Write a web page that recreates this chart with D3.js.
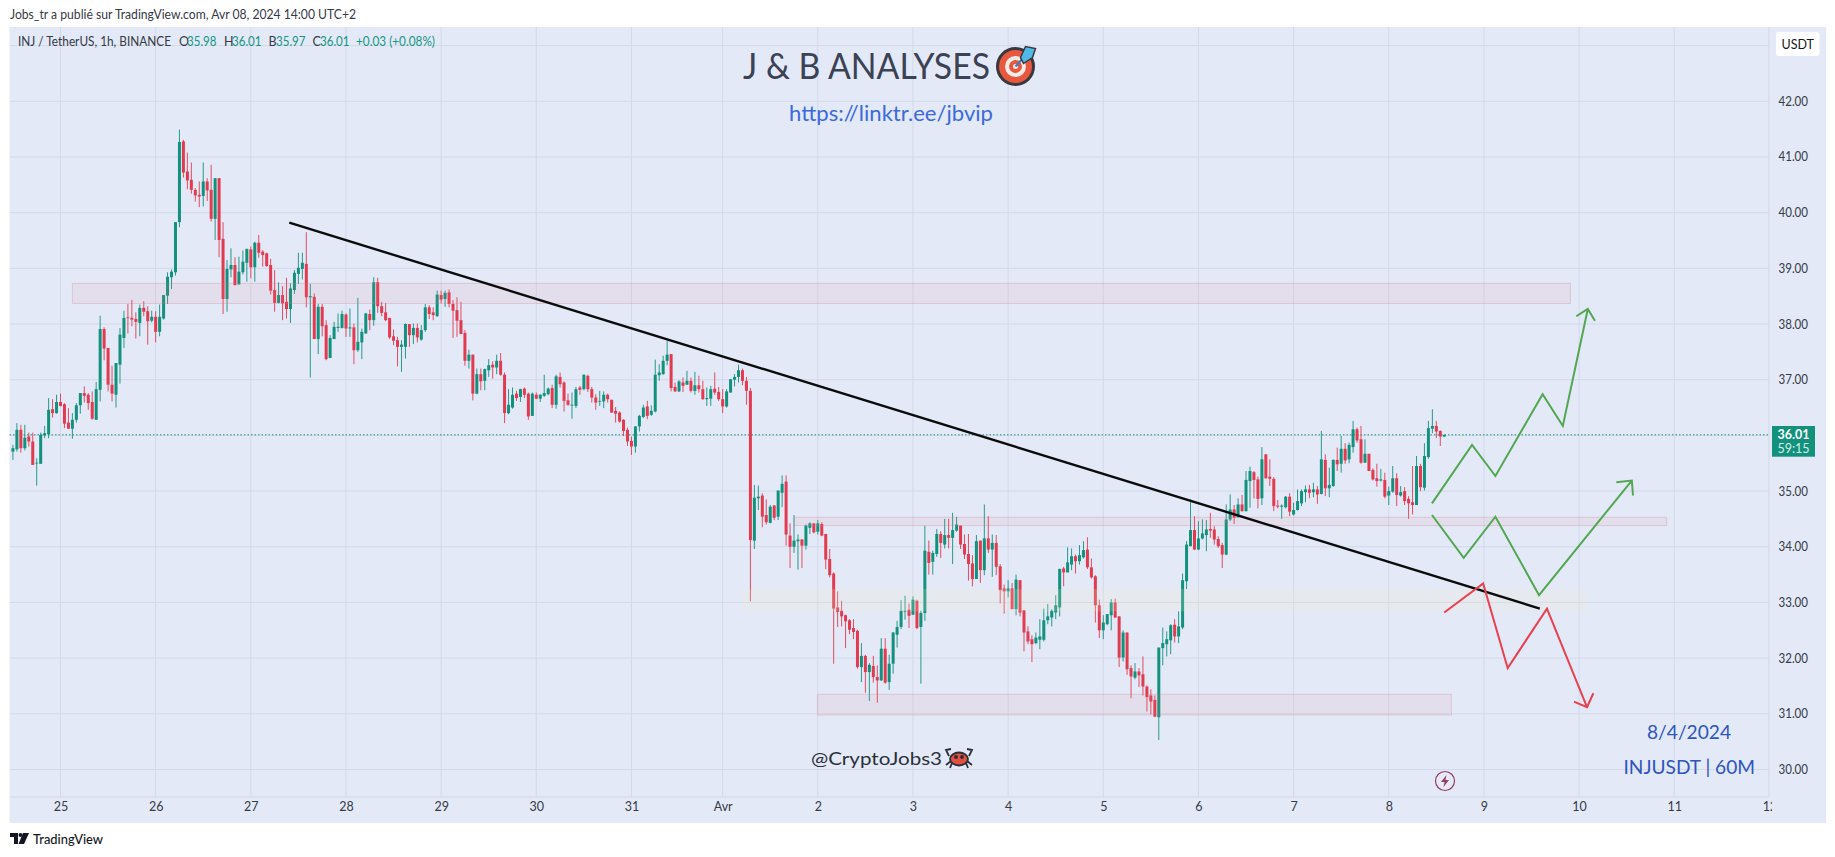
<!DOCTYPE html>
<html>
<head>
<meta charset="utf-8">
<title>INJUSDT 60M</title>
<style>
  html, body { margin: 0; padding: 0; background: #fff; overflow: hidden; }
  svg { display: block; }
  text { font-family: Lato, "Open Sans", sans-serif; }
</style>
<script src="https://d3js.org/d3.v7.min.js"></script>
</head>
<body>
<svg width="1835" height="857"></svg>
<script>

// hourly candles, first one is 12 bars before the "25" tick
var firstBar = -12;

var opens = [
35.71,35.75,36.10,35.77,35.98,35.89,35.50,35.49,36.00,36.02,
36.47,36.40,36.60,36.56,36.23,36.12,36.28,36.54,36.76,36.73,
36.60,36.28,36.82,37.91,37.57,36.91,36.73,37.27,37.75,38.12,
38.11,38.09,38.02,38.29,38.23,38.06,38.13,37.86,38.10,38.51,
38.84,38.93,39.83,41.28,40.74,40.59,40.41,40.32,40.30,40.56,
40.41,39.89,40.62,39.53,38.45,38.98,39.06,38.71,38.93,39.10,
39.34,39.02,39.46,39.30,39.27,39.06,38.61,38.38,38.52,38.40,
38.27,38.61,38.90,38.99,39.08,38.48,38.49,37.73,38.31,37.98,
37.39,37.73,37.93,37.93,38.17,37.92,37.94,37.53,37.67,37.83,
38.18,38.07,38.75,38.32,38.21,38.11,37.78,37.71,37.59,37.59,
38.00,37.80,37.93,37.72,37.89,38.30,38.21,38.14,38.52,38.45,
38.57,38.36,38.25,38.07,37.84,37.34,37.45,36.75,37.10,36.98,
37.17,37.27,37.22,37.34,37.09,36.40,36.50,36.75,36.69,36.84,
36.75,36.35,36.73,36.66,36.71,36.74,36.85,36.55,37.05,36.95,
36.63,36.54,36.53,36.86,36.83,37.07,36.83,36.68,36.61,36.61,
36.73,36.64,36.44,36.41,36.28,36.10,35.90,35.80,36.16,36.33,
36.52,36.37,36.43,37.08,37.10,37.34,37.46,36.87,36.79,36.95,
36.91,36.98,36.80,36.90,36.83,36.65,36.66,36.84,36.78,36.65,
36.52,36.77,37.00,37.05,37.17,36.98,36.80,34.11,34.87,34.92,
34.57,34.43,34.74,34.54,34.97,35.17,34.20,34.00,34.10,34.13,
34.02,34.34,34.42,34.27,34.41,34.23,33.78,33.52,32.91,32.85,
32.77,32.68,32.54,32.49,31.84,32.04,31.75,31.86,31.66,31.60,
32.17,31.57,31.90,32.42,32.56,32.84,32.87,32.78,33.03,32.56,
32.81,33.91,33.73,33.87,34.23,34.04,34.21,34.16,34.29,34.38,
34.05,33.87,33.70,33.42,34.11,33.58,34.15,33.95,34.07,33.65,
33.25,33.20,33.25,32.88,33.40,32.86,32.48,32.34,32.27,32.33,
32.33,32.68,32.73,32.82,32.91,33.61,33.54,33.68,33.83,33.74,
33.81,33.95,33.63,33.47,32.95,32.50,32.61,32.77,33.00,32.75,
32.01,32.46,31.82,31.65,31.76,31.71,31.49,31.33,31.25,30.94,
32.18,32.25,32.32,32.60,32.39,32.55,33.38,34.01,34.30,33.95,
34.15,34.21,34.32,34.31,34.14,34.03,33.86,34.49,34.67,34.53,
34.76,34.64,35.18,35.34,35.21,34.87,35.66,35.26,35.22,34.74,
34.72,34.71,34.90,34.58,34.66,34.78,34.98,35.03,34.98,35.03,
34.95,35.56,35.05,35.09,35.56,35.49,35.76,35.57,35.79,36.11,
35.93,35.51,35.67,35.38,35.23,35.19,35.20,34.92,34.99,35.23,
34.92,35.00,34.86,34.80,34.75,35.45,35.06,35.61,36.12,36.17,36.08,35.98];

var highs = [
35.83,36.22,36.19,36.19,36.05,36.05,35.59,36.05,36.17,36.67,
36.65,36.73,36.75,36.58,36.49,36.40,36.58,36.76,36.88,36.76,
36.79,36.96,38.15,37.94,37.57,37.25,37.30,37.93,38.24,38.36,
38.43,38.21,38.35,38.41,38.32,38.24,38.23,38.35,38.52,38.93,
38.98,39.83,41.49,41.31,41.08,40.90,40.44,40.56,40.90,40.62,
40.86,40.62,40.62,39.83,39.15,39.36,39.20,39.21,39.32,39.35,
39.39,39.48,39.60,39.33,39.28,39.17,38.97,38.75,38.68,38.83,
38.73,38.97,39.28,39.28,39.65,38.72,38.55,38.36,38.36,38.07,
37.80,38.04,38.19,38.24,38.19,38.28,38.01,38.47,37.92,38.20,
38.26,38.84,38.83,38.40,38.38,38.11,37.90,37.77,37.71,38.01,
38.00,38.01,38.01,37.98,38.36,38.34,38.30,38.60,38.60,38.60,
38.62,38.43,38.48,38.40,37.89,37.54,37.45,37.20,37.20,37.20,
37.37,37.33,37.45,37.48,37.13,36.83,36.86,36.80,36.84,36.86,
36.77,36.77,36.77,36.74,37.09,36.86,36.91,37.09,37.13,36.97,
36.75,36.77,36.87,36.89,37.09,37.09,36.87,36.74,36.80,36.79,
36.75,36.64,36.51,36.43,36.29,36.14,35.98,36.17,36.37,36.55,
36.62,36.54,37.36,37.28,37.43,37.70,37.46,36.95,36.99,37.04,
37.16,37.04,37.14,37.07,36.98,36.86,36.89,37.13,36.87,36.83,
36.83,37.01,37.10,37.27,37.20,37.05,36.85,35.11,35.10,34.96,
34.85,34.75,34.75,35.01,35.28,35.28,34.42,34.57,34.22,34.14,
34.40,34.44,34.42,34.48,34.44,34.23,33.96,33.54,33.20,33.03,
32.78,32.70,32.70,32.51,32.27,32.06,31.91,32.04,31.87,32.36,
32.36,32.06,32.47,32.67,33.04,33.12,32.98,33.11,33.05,32.85,
34.38,34.11,33.93,34.32,34.28,34.50,34.50,34.61,34.54,34.38,
34.22,34.23,33.85,34.21,34.11,34.76,34.55,34.22,34.21,33.69,
33.32,33.40,33.35,33.50,33.40,32.86,32.57,32.41,32.46,32.70,
32.89,32.97,32.88,33.13,33.61,33.64,33.99,33.97,33.86,34.03,
34.10,34.17,33.79,33.49,33.05,32.77,32.79,33.06,33.07,32.75,
32.50,32.46,31.87,31.91,31.82,32.03,31.51,31.44,31.33,32.19,
32.55,32.48,32.61,32.70,32.84,33.52,34.10,34.85,34.55,34.46,
34.49,34.48,34.61,34.37,34.19,34.07,34.76,34.94,34.75,34.87,
34.93,35.36,35.44,35.36,35.26,35.79,35.66,35.57,35.25,34.84,
34.76,34.91,34.96,34.79,35.03,35.03,35.10,35.11,35.15,35.09,
36.08,35.66,35.42,35.57,35.78,35.99,35.86,35.87,36.26,36.14,
36.17,35.93,35.67,35.41,35.49,35.40,35.33,35.08,35.45,35.32,
35.09,35.07,34.91,35.45,35.63,35.49,35.86,36.26,36.47,36.26,36.09,36.01];

var lows = [
35.56,35.71,35.69,35.73,35.80,35.47,35.10,35.49,35.95,35.95,
36.32,36.39,36.52,36.13,36.12,35.94,36.23,36.39,36.59,36.46,
36.28,36.28,36.61,37.35,36.79,36.61,36.50,36.93,37.57,37.83,
37.96,37.74,37.78,38.14,37.63,38.03,37.67,37.78,38.08,38.36,
38.63,38.87,39.74,40.63,40.42,40.34,40.20,40.10,40.11,40.21,
39.84,39.51,39.20,38.18,38.22,38.84,38.69,38.71,38.89,38.76,
38.82,38.76,39.19,39.03,39.03,38.53,38.22,38.37,38.07,38.10,
38.02,38.54,38.72,38.80,38.30,37.04,37.73,37.46,37.78,37.35,
37.39,37.73,37.86,37.92,37.77,37.77,37.28,37.50,37.37,37.83,
37.89,37.97,38.20,38.14,38.05,37.73,37.62,37.24,37.14,37.38,
37.59,37.64,37.67,37.70,37.86,38.09,38.07,38.13,38.37,38.31,
38.30,37.75,37.77,37.82,37.25,37.20,36.63,36.74,36.81,36.81,
37.05,37.02,37.10,37.07,36.22,36.38,36.48,36.62,36.60,36.67,
36.28,36.35,36.65,36.60,36.69,36.72,36.49,36.48,36.86,36.43,
36.53,36.30,36.49,36.73,36.81,36.78,36.59,36.46,36.53,36.49,
36.59,36.41,36.23,36.23,35.99,35.81,35.65,35.69,36.07,36.31,
36.29,36.35,36.41,36.98,37.09,37.26,36.79,36.78,36.78,36.78,
36.91,36.77,36.73,36.77,36.64,36.53,36.53,36.73,36.62,36.40,
36.50,36.77,36.88,36.95,36.90,36.55,33.02,33.96,34.66,34.35,
34.40,34.42,34.48,34.48,34.71,34.02,33.62,33.89,33.59,33.62,
33.95,34.23,34.24,34.22,34.19,33.60,33.45,31.90,32.56,32.57,
32.18,32.43,32.34,31.81,31.57,31.38,31.23,31.56,31.20,31.59,
31.54,31.43,31.72,32.19,32.52,32.69,32.54,32.78,32.52,31.54,
32.67,33.50,33.50,33.82,33.80,33.97,33.97,33.69,34.27,33.96,
33.78,33.39,33.29,33.42,33.35,33.49,33.89,33.46,33.49,32.98,
32.80,33.09,32.88,32.77,32.75,32.12,32.25,31.93,32.25,32.16,
32.30,32.61,32.57,32.70,32.75,33.29,33.54,33.58,33.52,33.68,
33.79,33.60,33.43,32.64,32.36,32.34,32.59,32.50,32.72,31.84,
31.94,31.70,31.28,31.62,31.48,31.33,31.04,30.99,30.94,30.53,
31.87,32.03,32.07,32.28,32.27,32.52,33.24,34.01,33.94,33.94,
34.13,33.92,34.16,34.04,33.98,33.62,33.85,34.46,34.41,34.52,
34.63,34.63,34.70,34.87,34.69,34.75,35.22,35.09,34.64,34.69,
34.50,34.69,34.55,34.56,34.65,34.73,34.80,34.87,34.89,34.77,
34.94,34.91,34.89,35.08,35.36,35.33,35.49,35.50,35.69,35.87,
35.49,35.51,35.36,35.19,35.08,35.17,34.87,34.75,34.97,34.73,
34.90,34.75,34.50,34.58,34.75,35.00,35.01,35.58,36.04,35.95,35.81,35.97];

var closes = [
35.77,36.10,35.77,35.96,35.89,35.47,35.51,36.01,36.04,36.46,
36.40,36.60,36.53,36.21,36.12,36.28,36.54,36.76,36.71,36.58,
36.30,36.83,37.91,37.56,36.91,36.75,37.30,37.81,38.11,38.11,
38.08,38.04,38.29,38.22,38.05,38.13,37.86,38.13,38.52,38.85,
38.94,39.83,41.27,40.72,40.58,40.41,40.31,40.29,40.56,40.40,
39.89,40.62,39.51,38.45,38.99,39.06,38.70,38.94,39.12,39.35,
39.02,39.46,39.28,39.24,39.04,38.60,38.38,38.52,38.37,38.27,
38.64,38.92,39.01,39.10,38.48,38.50,37.73,38.31,37.96,37.37,
37.75,37.95,37.95,38.18,37.92,37.94,37.53,37.68,37.86,38.19,
38.07,38.75,38.32,38.20,38.07,37.76,37.70,37.59,37.63,38.00,
37.80,37.93,37.76,37.89,38.30,38.18,38.16,38.53,38.44,38.56,
38.36,38.24,38.06,37.82,37.34,37.45,36.75,37.10,36.97,37.19,
37.26,37.22,37.34,37.09,36.40,36.55,36.73,36.67,36.83,36.73,
36.34,36.75,36.66,36.73,36.76,36.84,36.55,37.06,36.92,36.62,
36.55,36.55,36.83,36.82,37.09,36.83,36.68,36.59,36.62,36.73,
36.65,36.41,36.39,36.25,36.08,35.89,35.80,36.16,36.35,36.50,
36.35,36.44,37.09,37.13,37.34,37.45,36.85,36.79,36.97,36.89,
36.98,36.80,36.90,36.83,36.65,36.67,36.83,36.77,36.65,36.52,
36.79,37.01,37.05,37.17,36.98,36.80,34.12,34.88,34.90,34.54,
34.44,34.72,34.52,35.01,35.13,34.22,34.00,34.11,34.13,34.02,
34.38,34.42,34.26,34.42,34.20,33.77,33.49,32.89,32.83,32.75,
32.66,32.51,32.47,31.84,32.04,31.75,31.88,31.66,31.60,32.17,
31.56,31.90,32.46,32.56,32.85,32.85,32.76,33.05,32.54,32.81,
33.93,33.71,33.89,34.23,34.07,34.21,34.16,34.30,34.40,34.04,
33.86,33.69,33.42,34.10,33.58,34.15,33.95,34.07,33.64,33.22,
33.20,33.25,32.88,33.41,32.82,32.46,32.30,32.25,32.37,32.39,
32.68,32.75,32.85,32.95,33.60,33.54,33.72,33.83,33.74,33.85,
33.94,33.63,33.45,32.95,32.50,32.64,32.79,33.00,32.73,32.01,
32.46,31.80,31.67,31.76,31.69,31.49,31.30,31.22,30.95,32.19,
32.27,32.34,32.59,32.39,32.57,33.40,34.04,34.30,33.95,34.15,
34.24,34.31,34.29,34.13,34.01,33.86,34.49,34.67,34.52,34.76,
34.64,35.20,35.36,35.20,34.86,35.57,35.23,35.22,34.73,34.72,
34.74,34.90,34.63,34.66,34.82,35.00,35.03,34.97,35.03,34.94,
35.57,35.05,35.11,35.56,35.48,35.76,35.55,35.83,36.11,35.91,
35.51,35.67,35.36,35.21,35.18,35.21,34.90,35.00,35.23,34.93,
34.98,34.82,34.78,34.75,35.45,35.07,35.63,36.13,36.17,36.07,35.98,36.01];

var dayLabels = ["25","26","27","28","29","30","31","Avr","2","3","4","5","6","7","8","9","10","11","12"];
var dayBars = [0,24,48,72,96,120,144,167,191,215,239,263,287,311,335,359,383,407,431];
var priceTicks = [30,31,32,33,34,35,36,37,38,39,40,41,42];
var gridPrices = [30,31,32,33,34,35,36,37,38,39,40,41,42,43];
var lastPrice = 36.01;

// drawings: [bar, price]
var trendLine = [[57.7,39.82],[373.1,32.89]];
var pinkBands = [
  {from:3, to:380.8, hi:38.73, lo:38.37},
  {from:185, to:405.1, hi:34.53, lo:34.38},
  {from:190.9, to:350.8, hi:31.35, lo:30.98}
];
var paleBand = {from:172, to:385.2, hi:33.24, lo:32.84};
var greenUp = [[345.9,34.78],[356,35.83],[361.9,35.27],[373.8,36.74],[378.9,36.17],[385.2,38.27]];
var greenUpHead = [[382.3,38.14],[385.2,38.27],[387,38.06]];
var greenLow = [[345.9,34.57],[353.9,33.80],[361.9,34.54],[372.9,33.13],[396.3,35.19]];
var greenLowHead = [[392.4,35.16],[396.3,35.19],[396.6,34.92]];
var redDown = [[349,32.82],[358.8,33.34],[365,31.82],[374.9,32.89],[385,31.12]];
var redDownHead = [[381.7,31.22],[385,31.12],[386.6,31.37]];

var upColor = "#12917d", downColor = "#e23b50", bgColor = "#e3e9f7", gridColor = "#d3d9e8";

var candles = opens.map(function(o, i) {
  return {bar: firstBar + i, o: o, h: highs[i], l: lows[i], c: closes[i]};
});

var svg = d3.select("svg");
var left = 9.5, right = 1769, top_ = 27, bottom = 797;

var x = d3.scaleLinear().domain([0, 431]).range([60.5, 1769.4]);
var y = d3.scaleLinear().domain([30, 42]).range([769.5, 101.3]);

// panel
svg.append("rect").attr("x", left).attr("y", top_).attr("width", 1826 - left).attr("height", 823 - top_).attr("fill", bgColor);

var defs = svg.append("defs");
defs.append("clipPath").attr("id", "plot").append("rect")
    .attr("x", left).attr("y", top_).attr("width", right - left).attr("height", bottom - top_);

// grid
var grid = svg.append("g").attr("clip-path", "url(#plot)");
grid.selectAll("line.v").data(dayBars).enter().append("line")
    .attr("x1", function(d) { return x(d); }).attr("x2", function(d) { return x(d); })
    .attr("y1", top_).attr("y2", bottom)
    .attr("stroke", gridColor);
grid.selectAll("line.h").data(gridPrices).enter().append("line")
    .attr("x1", left).attr("x2", right)
    .attr("y1", function(d) { return y(d); }).attr("y2", function(d) { return y(d); })
    .attr("stroke", gridColor);

// price line
svg.append("line")
    .attr("x1", left).attr("x2", right)
    .attr("y1", y(lastPrice)).attr("y2", y(lastPrice))
    .attr("stroke", upColor).attr("stroke-dasharray", "1.5,2");

// candles
var candle = svg.append("g").selectAll("g").data(candles).enter().append("g")
    .attr("fill", function(d) { return d.c >= d.o ? upColor : downColor; })
    .attr("stroke", function(d) { return d.c >= d.o ? upColor : downColor; });
candle.append("line")
    .attr("x1", function(d) { return x(d.bar); }).attr("x2", function(d) { return x(d.bar); })
    .attr("y1", function(d) { return y(d.h); }).attr("y2", function(d) { return y(d.l); })
    .attr("stroke-width", 0.9);
candle.append("rect")
    .attr("x", function(d) { return x(d.bar) - 1.5; })
    .attr("width", 3)
    .attr("y", function(d) { return y(Math.max(d.o, d.c)); })
    .attr("height", function(d) { return Math.max(0.8, Math.abs(y(d.o) - y(d.c))); })
    .attr("stroke", "none");

// zones
function band(sel, fill, stroke) {
  sel.attr("x", function(d) { return x(d.from); })
     .attr("y", function(d) { return y(d.hi); })
     .attr("width", function(d) { return x(d.to) - x(d.from); })
     .attr("height", function(d) { return y(d.lo) - y(d.hi); })
     .attr("fill", fill).attr("stroke", stroke);
}
svg.append("g").selectAll("rect").data(pinkBands).enter().append("rect")
    .call(band, "rgba(232,130,140,0.1)", "rgba(205,120,140,0.28)");
svg.append("g").selectAll("rect").data([paleBand]).enter().append("rect")
    .call(band, "rgba(245,240,200,0.18)", "none");

// drawn lines
var line = d3.line().x(function(d) { return x(d[0]); }).y(function(d) { return y(d[1]); });
function drawLine(pts, color, w) {
  svg.append("path").attr("d", line(pts)).attr("fill", "none")
      .attr("stroke", color).attr("stroke-width", w).attr("stroke-linejoin", "miter");
}
drawLine(trendLine, "#0b0b0b", 2.4);
drawLine(greenUp, "#52a752", 2);
drawLine(greenUpHead, "#52a752", 2);
drawLine(greenLow, "#52a752", 2);
drawLine(greenLowHead, "#52a752", 2);
drawLine(redDown, "#e8404f", 2);
drawLine(redDownHead, "#e8404f", 2);

// axes
var yAxis = d3.axisRight(y).tickValues(priceTicks).tickFormat(d3.format(".2f")).tickSize(0).tickPadding(9.5);
var yG = svg.append("g").attr("transform", "translate(" + right + ",0)").call(yAxis);
yG.select(".domain").attr("stroke", gridColor).attr("d", "M0," + top_ + "V" + bottom);
yG.selectAll("text").attr("font-size", 12.5).attr("fill", "#363a45").attr("font-family", "Lato")
    .attr("textLength", 29.5).attr("lengthAdjust", "spacingAndGlyphs");

var xAxis = d3.axisBottom(x).tickValues(dayBars)
    .tickFormat(function(d, i) { return dayLabels[i]; }).tickSize(0).tickPadding(5);
var xG = svg.append("g").attr("transform", "translate(0," + bottom + ")").attr("clip-path", "url(#xclip)").call(xAxis);
defs.append("clipPath").attr("id", "xclip").append("rect").attr("x", left).attr("y", -5).attr("width", right - left + 3).attr("height", 30);
xG.select(".domain").attr("stroke", gridColor).attr("d", "M" + left + ",0H" + right);
xG.selectAll("text").attr("font-size", 12.5).attr("fill", "#363a45").attr("font-family", "Lato");

// usdt box
svg.append("rect").attr("x", 1776).attr("y", 32).attr("width", 43.5).attr("height", 24).attr("rx", 3).attr("fill", "#fff");
svg.append("text").attr("x", 1797.7).attr("y", 49).attr("text-anchor", "middle").attr("font-size", 12.5).attr("fill", "#131722").text("USDT");

// last price tag
svg.append("rect").attr("x", 1772).attr("y", 426).attr("width", 43).attr("height", 30.7).attr("fill", upColor);
svg.append("text").attr("x", 1793.5).attr("y", 439).attr("text-anchor", "middle").attr("font-size", 12.5).attr("font-weight", 700).attr("fill", "#fff").text(d3.format(".2f")(lastPrice));
svg.append("text").attr("x", 1793.5).attr("y", 453).attr("text-anchor", "middle").attr("font-size", 12.5).attr("fill", "#d5ece8").text("59:15");

// header and legend
function label(px, py, str, size, color, width, weight) {
  var t = svg.append("text").attr("x", px).attr("y", py).attr("font-size", size).attr("fill", color).text(str);
  if (width) t.attr("textLength", width).attr("lengthAdjust", "spacingAndGlyphs");
  if (weight) t.attr("font-weight", weight);
  return t;
}
label(10, 19, "Jobs_tr a publié sur TradingView.com, Avr 08, 2024 14:00 UTC+2", 12.5, "#363a45", 346);
label(18, 45.5, "INJ / TetherUS, 1h, BINANCE", 12.5, "#363a45", 153);
var legendGreen = "#14957f";
label(179, 45.5, "O", 12.5, "#363a45");
label(187, 45.5, "35.98", 12.5, legendGreen, 29.5);
label(224, 45.5, "H", 12.5, "#363a45");
label(232, 45.5, "36.01", 12.5, legendGreen, 29.5);
label(268.5, 45.5, "B", 12.5, "#363a45");
label(276, 45.5, "35.97", 12.5, legendGreen, 29.5);
label(312.5, 45.5, "C", 12.5, "#363a45");
label(320, 45.5, "36.01", 12.5, legendGreen, 29.5);
label(356, 45.5, "+0.03 (+0.08%)", 12.5, legendGreen, 79);

// watermark texts
label(743, 78.5, "J & B ANALYSES", 36, "#3b4254", 247);
label(789, 120.5, "https://linktr.ee/jbvip", 20.5, "#3c69dc", 204);
label(811, 765, "@CryptoJobs3", 18, "#2b2f3a", 131);
label(1647, 739, "8/4/2024", 19, "#2d55bb", 84);
label(1623.5, 774, "INJUSDT | 60M", 19, "#2d55bb", 131.5);

// target icon
var target = svg.append("g").attr("transform", "translate(1015.5,66.5)");
target.append("circle").attr("r", 19.5).attr("fill", "#38393f");
target.append("circle").attr("r", 16.5).attr("fill", "#e9573f");
target.append("circle").attr("r", 10.5).attr("fill", "#f4ece6");
target.append("circle").attr("r", 6.5).attr("fill", "#e9573f");
target.append("circle").attr("r", 2.5).attr("fill", "#f4ece6");
target.append("path").attr("d", "M0,0L8,-9").attr("stroke", "#2f7fc9").attr("stroke-width", 2);
target.append("path").attr("d", "M5,-9L10,-20L20,-18L17,-9L8,-3Z").attr("fill", "#4fb9e8").attr("stroke", "#38393f").attr("stroke-width", 1.5);

// crab icon
var crab = svg.append("g").attr("transform", "translate(959,758)")
    .attr("stroke", "#2b2f3a").attr("stroke-width", 1.8).attr("fill", "none");
crab.append("path").attr("d", "M-10,-2L-13,-8L-8,-9M10,-2L13,-8L8,-9M-8,3L-13,7M-7,5L-9,10M8,3L13,7M7,5L9,10");
crab.append("ellipse").attr("rx", 9).attr("ry", 6.5).attr("cy", 1).attr("fill", "#e2503f");
crab.append("circle").attr("cx", -3).attr("cy", -1).attr("r", 1).attr("fill", "#2b2f3a");
crab.append("circle").attr("cx", 3).attr("cy", -1).attr("r", 1).attr("fill", "#2b2f3a");

// earnings flash mark
var flash = svg.append("g").attr("transform", "translate(1445,781)");
flash.append("circle").attr("r", 9.5).attr("fill", "#e9e9f3").attr("stroke", "#8a3f6d").attr("stroke-width", 1.2);
flash.append("path").attr("d", "M1.5,-6L-4,1H-0.5L-1.5,6L4,-1H0.5Z").attr("fill", "#8a3f6d");

// logo bottom left
var logo = svg.append("g").attr("transform", "translate(10,833)").attr("fill", "#131722");
logo.append("path").attr("d", "M0,0H8V11H4V4H0Z");
logo.append("circle").attr("cx", 10.5).attr("cy", 2).attr("r", 2);
logo.append("path").attr("d", "M13,0H19L14,11H8.5Z");
label(33, 844, "TradingView", 13, "#131722", 70, 500);

</script>
</body>
</html>
